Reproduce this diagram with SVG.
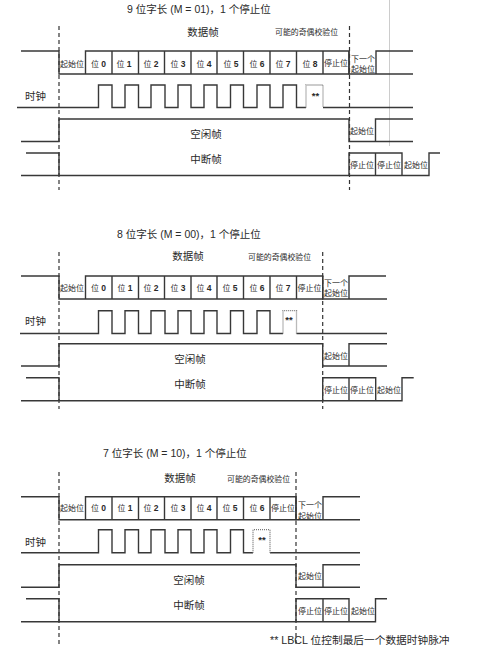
<svg xmlns="http://www.w3.org/2000/svg" width="494" height="652" viewBox="0 0 494 652">
<style>
text{font-family:"Liberation Sans","Noto Sans CJK SC",sans-serif;fill:#2a2a2a;text-anchor:middle}
.t{font-size:10.500px;text-anchor:start}
.h{font-size:10.500px}
.p{font-size:7.900px;text-anchor:start}
.b{font-size:8px}
.b tspan{font-weight:bold;font-size:8.500px}
.c{font-size:10.500px;text-anchor:start}
.s{font-size:9.500px;font-weight:bold}
.n{font-size:10.700px;text-anchor:start}
.w{fill:none;stroke:#383838;stroke-width:1.4}
.d{fill:none;stroke:#333;stroke-width:1.2;stroke-dasharray:4 3}
.g{fill:none;stroke:#777;stroke-width:1.300;stroke-dasharray:1 1}
</style>
<rect width="494" height="652" fill="#fff"/>
<path d="M389.500 0V146" fill="none" stroke="#ccc" stroke-width="1"/>

<g id="frame-9bit">
<text class="t" x="127" y="13">9 位字长 (M = 01)，1 个停止位</text>
<text class="h" x="203" y="36">数据帧</text>
<text class="p" x="275" y="35">可能的奇偶校验位</text>
<g id="connectors-9bit">
<path class="d" d="M59 26V190M349.500 26V190"/>
<path class="w" d="M21 51H59V74H349V51H85.500V74M112 51V74M138.500 51V74M164.500 51V74M191 51V74M217 51V74M243.500 51V74M270 51V74M296.500 51V74M323 51V74"/>
<path class="w" d="M349 51V74H376V51H413M376 74H413"/>
<path class="w" d="M17 107.500H98.500V85H112V107.500H125V85H138.500V107.500H151V85H165V107.500H178V85H191V107.500H204V85H217V107.500H230.500V85H243.500V107.500H257V85H270V107.500H283V85H296.500V107.500H306M323 107.500H413"/>
<path class="g" d="M306 107.500V85H323V107.500"/>
<path class="w" d="M21 141.500H59V119H349V141.500H375.500V119H413M375.500 141.500H413"/>
<path class="w" d="M26 153H59V175.500H429V153H440M21 175.500H59M349 175.500V153H402V175.500M375.500 153V175.500"/>
</g>
<text class="b" x="72" y="66.500">起始位</text>
<text class="b" x="98.500" y="66.500">位 <tspan>0</tspan></text><text class="b" x="124" y="66.500">位 <tspan>1</tspan></text><text class="b" x="151" y="66.500">位 <tspan>2</tspan></text><text class="b" x="178" y="66.500">位 <tspan>3</tspan></text><text class="b" x="204" y="66.500">位 <tspan>4</tspan></text><text class="b" x="231" y="66.500">位 <tspan>5</tspan></text><text class="b" x="257" y="66.500">位 <tspan>6</tspan></text><text class="b" x="283" y="66.500">位 <tspan>7</tspan></text><text class="b" x="310" y="66.500">位 <tspan>8</tspan></text><text class="b" x="336" y="65.500">停止位</text>
<text class="b" x="363" y="61.500">下一个</text><text class="b" x="363" y="71.500">起始位</text>
<text class="c" x="25" y="100">时钟</text>
<text class="s" x="315.500" y="98.500">**</text>
<text class="h" x="206" y="138">空闲帧</text>
<text class="h" x="206" y="163">中断帧</text>
<text class="b" x="362" y="133.500">起始位</text>
<text class="b" x="362" y="168">停止位</text><text class="b" x="389" y="168">停止位</text><text class="b" x="416" y="168">起始位</text>
</g>

<g id="frame-8bit">
<text class="t" x="117" y="238">8 位字长 (M = 00)，1 个停止位</text>
<text class="h" x="188" y="260">数据帧</text>
<text class="p" x="248" y="260">可能的奇偶校验位</text>
<g id="connectors-8bit">
<path class="d" d="M59 252V409M322.700 252V409"/>
<path class="w" d="M21 276H59V299H322.700V276H85.500V299M112 276V299M138.500 276V299M164.500 276V299M191 276V299M217 276V299M243.500 276V299M270 276V299M296.500 276V299"/>
<path class="w" d="M322.700 276V299H349V276H386M349 299H387"/>
<path class="w" d="M20 333.500H98.500V310.700H112V333.500H125V310.700H138.500V333.500H151V310.700H165V333.500H178V310.700H191V333.500H204V310.700H217V333.500H230.500V310.700H243.500V333.500H257V310.700H270V333.500H283M296.500 333.500H387"/>
<path class="g" d="M283 333.500V310.700H296.500V333.500"/>
<path class="w" d="M21 366H59V343.700H322.700V366H349V343.700H387M349 366H387"/>
<path class="w" d="M26 377.700H59V400.700H402V377.700H413.700M21 400.700H59M322.700 400.700V377.700H375.700V400.700M349 377.700V400.700"/>
</g>
<text class="b" x="72" y="291">起始位</text>
<text class="b" x="98.500" y="291">位 <tspan>0</tspan></text><text class="b" x="125" y="291">位 <tspan>1</tspan></text><text class="b" x="151" y="291">位 <tspan>2</tspan></text><text class="b" x="178" y="291">位 <tspan>3</tspan></text><text class="b" x="204" y="291">位 <tspan>4</tspan></text><text class="b" x="230" y="291">位 <tspan>5</tspan></text><text class="b" x="257" y="291">位 <tspan>6</tspan></text><text class="b" x="283" y="291">位 <tspan>7</tspan></text><text class="b" x="309.500" y="291">停止位</text>
<text class="b" x="336" y="285.500">下一个</text><text class="b" x="336" y="296">起始位</text>
<text class="c" x="25" y="325">时钟</text>
<text class="s" x="289" y="322.500">**</text>
<text class="h" x="190" y="363">空闲帧</text>
<text class="h" x="190" y="388">中断帧</text>
<text class="b" x="336" y="358.500">起始位</text>
<text class="b" x="336" y="393">停止位</text><text class="b" x="362" y="393">停止位</text><text class="b" x="389" y="393">起始位</text>
</g>

<g id="frame-7bit">
<text class="t" x="103" y="457">7 位字长 (M = 10)，1 个停止位</text>
<text class="h" x="180" y="482">数据帧</text>
<text class="p" x="227" y="482">可能的奇偶校验位</text>
<g id="connectors-7bit">
<path class="d" d="M59 472V645M296 472V645"/>
<path class="w" d="M21 496.700H59V519.700H296V496.700H85.500V519.700M112 496.700V519.700M138.500 496.700V519.700M164.500 496.700V519.700M191 496.700V519.700M217 496.700V519.700M243.500 496.700V519.700M270 496.700V519.700"/>
<path class="w" d="M296 496.700V519.700H323V496.700H360M323 519.700H360"/>
<path class="w" d="M21 552.700H98.500V529.700H112V552.700H125V529.700H138.500V552.700H151V529.700H165V552.700H178V529.700H191V552.700H204V529.700H217V552.700H230.500V529.700H243.500V552.700H253M270 552.700H360"/>
<path class="g" d="M253 552.700V529.700H270V552.700"/>
<path class="w" d="M21 587.300H59V564.700H296V587.300H323V564.700H360M323 587.300H360"/>
<path class="w" d="M26 598.700H59V621.700H375.500V598.700H387M21 621.700H59M296 621.700V598.700H349V621.700M323 598.700V621.700"/>
</g>
<text class="b" x="72" y="511">起始位</text>
<text class="b" x="98.500" y="511">位 <tspan>0</tspan></text><text class="b" x="125" y="511">位 <tspan>1</tspan></text><text class="b" x="151" y="511">位 <tspan>2</tspan></text><text class="b" x="178" y="511">位 <tspan>3</tspan></text><text class="b" x="204" y="511">位 <tspan>4</tspan></text><text class="b" x="230" y="511">位 <tspan>5</tspan></text><text class="b" x="257" y="511">位 <tspan>6</tspan></text><text class="b" x="283" y="511">停止位</text>
<text class="b" x="310" y="507.500">下一个</text><text class="b" x="310" y="518.500">起始位</text>
<text class="c" x="25" y="546">时钟</text>
<text class="s" x="262" y="542.500">**</text>
<text class="h" x="189" y="584">空闲帧</text>
<text class="h" x="189" y="609">中断帧</text>
<text class="b" x="310" y="578.500">起始位</text>
<text class="b" x="310" y="613.500">停止位</text><text class="b" x="336" y="613.500">停止位</text><text class="b" x="363" y="613.500">起始位</text>
</g>

<text class="n" x="270" y="644">** LBCL 位控制最后一个数据时钟脉冲</text>
</svg>
